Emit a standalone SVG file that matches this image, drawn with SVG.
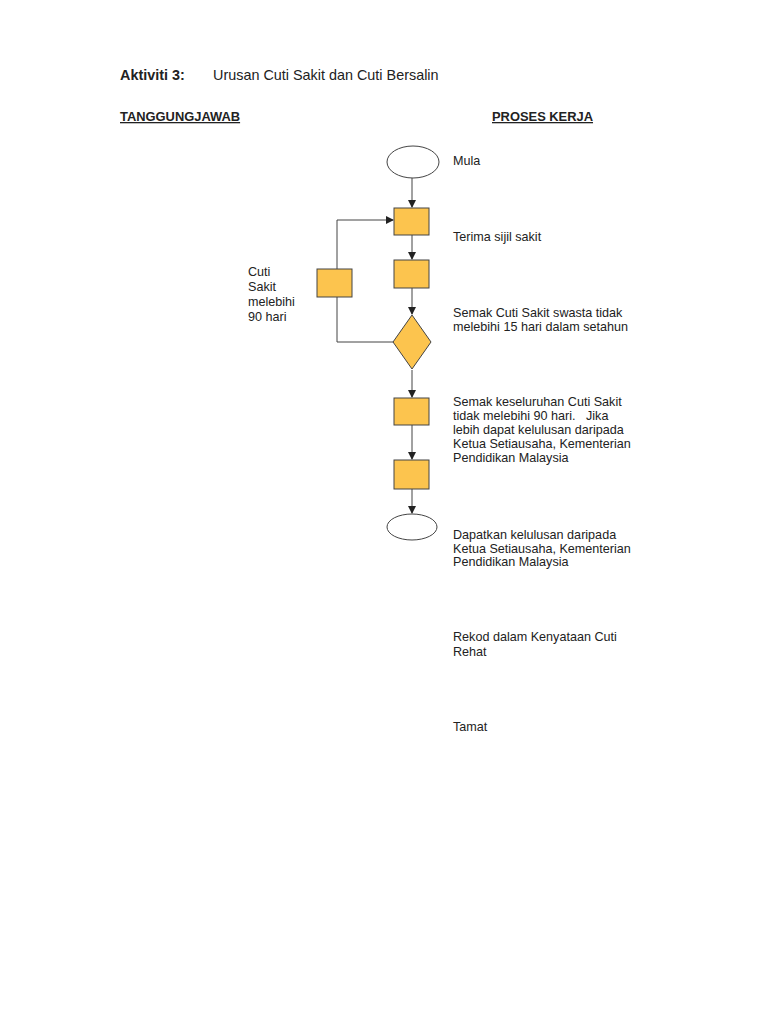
<svg xmlns="http://www.w3.org/2000/svg" width="768" height="1024" viewBox="0 0 768 1024">
<style>
text{font-family:"Liberation Sans",Arial,sans-serif;fill:#222;font-size:12.6px}
.t{font-size:14.4px}
.b{font-weight:bold}
.h{font-size:12.9px}
.u{text-decoration:underline}
.box{fill:#FCC44E;stroke:#444;stroke-width:1}
.oval{fill:#fff;stroke:#444;stroke-width:1}
.ln{fill:none;stroke:#444;stroke-width:1}
</style>
<defs>
<marker id="ah" markerWidth="8" markerHeight="8" refX="7" refY="4" orient="auto" markerUnits="userSpaceOnUse">
<path d="M0,0 L8,4 L0,8 Z" fill="#222"/>
</marker>
</defs>
<rect width="768" height="1024" fill="#fff"/>
<text class="t b" x="120" y="80">Aktiviti 3:</text>
<text class="t" x="213" y="80">Urusan Cuti Sakit dan Cuti Bersalin</text>
<text class="b u h" x="120" y="121">TANGGUNGJAWAB</text>
<text class="b u h" x="492" y="121">PROSES KERJA</text>

<g id="connectors">
<line class="ln" x1="412" y1="178" x2="412" y2="207" marker-end="url(#ah)"/>
<line class="ln" x1="412" y1="235" x2="412" y2="259" marker-end="url(#ah)"/>
<line class="ln" x1="412" y1="288" x2="412" y2="314" marker-end="url(#ah)"/>
<polyline class="ln" points="394,342 337,342 337,220 393,220" marker-end="url(#ah)"/>
<line class="ln" x1="412" y1="370" x2="412" y2="397" marker-end="url(#ah)"/>
<line class="ln" x1="412" y1="425" x2="412" y2="459" marker-end="url(#ah)"/>
<line class="ln" x1="412" y1="489" x2="412" y2="513" marker-end="url(#ah)"/>
</g>

<g id="mula"><ellipse class="oval" cx="413" cy="162" rx="26" ry="16"/><text x="453" y="165">Mula</text></g>
<g id="terima"><rect class="box" x="394" y="208" width="35" height="27"/><text x="453" y="241">Terima sijil sakit</text></g>
<g id="semak15"><rect class="box" x="394" y="260" width="35" height="28"/><text x="453" y="317">Semak Cuti Sakit swasta tidak</text><text x="453" y="331">melebihi 15 hari dalam setahun</text></g>
<g id="keputusan"><polygon class="box" points="412,315 431,342 412,369 393,342"/></g>
<g id="cutisakit90"><rect class="box" x="317" y="269" width="35" height="28"/><text x="248" y="276">Cuti</text><text x="248" y="291">Sakit</text><text x="248" y="306">melebihi</text><text x="248" y="321">90 hari</text></g>
<g id="semak90"><rect class="box" x="394" y="398" width="35" height="27"/><text x="453" y="406">Semak keseluruhan Cuti Sakit</text><text x="453" y="420" xml:space="preserve">tidak melebihi 90 hari.   Jika</text><text x="453" y="434">lebih dapat kelulusan daripada</text><text x="453" y="448">Ketua Setiausaha, Kementerian</text><text x="453" y="462">Pendidikan Malaysia</text></g>
<g id="dapatkan"><rect class="box" x="394" y="460" width="35" height="29"/><text x="453" y="539">Dapatkan kelulusan daripada</text><text x="453" y="553">Ketua Setiausaha, Kementerian</text><text x="453" y="566">Pendidikan Malaysia</text></g>
<g id="tamat"><ellipse class="oval" cx="412" cy="527" rx="25" ry="13"/><text x="453" y="641">Rekod dalam Kenyataan Cuti</text><text x="453" y="656">Rehat</text><text x="453" y="731">Tamat</text></g>
</svg>
